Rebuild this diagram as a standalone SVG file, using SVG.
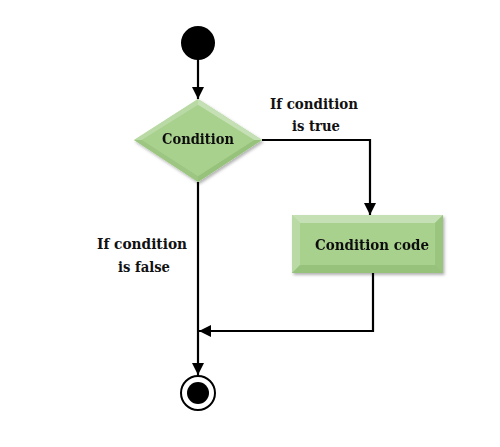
<svg xmlns="http://www.w3.org/2000/svg" width="500" height="447" viewBox="0 0 500 447">
<defs>
<style>
.lbl{font-family:"DejaVu Serif","Liberation Serif",serif;font-weight:bold;font-size:14px;fill:#111;text-anchor:middle}
.ln{stroke:#000;stroke-width:2.2;fill:none}
.shape{fill:#a9d18e}
.bevel-l{fill:#c5e0b4}
.bevel-d{fill:#8fbc73}
</style>
<marker id="arr" viewBox="0 0 10 10" refX="10" refY="5" markerWidth="12" markerHeight="12" orient="auto" markerUnits="userSpaceOnUse">
<path d="M0,0 L10,5 L0,10 z" fill="#000"/>
</marker>
<filter id="sh" x="-10%" y="-10%" width="130%" height="130%">
<feDropShadow dx="1.5" dy="2" stdDeviation="1.5" flood-color="#000" flood-opacity="0.3"/>
</filter>
</defs>
<rect width="500" height="447" fill="#fff"/>
<g id="connectors">
<line class="ln" x1="198" y1="58" x2="198" y2="99" marker-end="url(#arr)"/>
<polyline class="ln" points="262,140 370,140 370,215" marker-end="url(#arr)"/>
<polyline class="ln" points="373,273 373,331 199,331" marker-end="url(#arr)"/>
<line class="ln" x1="198" y1="182" x2="198" y2="375" marker-end="url(#arr)"/>
</g>
<g id="start">
<circle cx="198" cy="43" r="17" fill="#000"/>
</g>
<g id="condition" filter="url(#sh)">
<polygon class="shape" points="198,99 262,140 198,182 134,140"/>
<polygon class="bevel-l" points="198,99 262,140 254,140 198,105"/>
<polygon class="bevel-l" points="198,99 134,140 142,140 198,105" opacity="0.6"/>
<polygon class="bevel-d" points="198,182 262,140 254,140 198,176" opacity="0.7"/>
<polygon class="bevel-d" points="198,182 134,140 142,140 198,176" opacity="0.5"/>
<polygon class="shape" points="198,105 254,140 198,176 142,140"/>
<text class="lbl" x="198" y="144" textLength="72" lengthAdjust="spacingAndGlyphs">Condition</text>
</g>
<g id="code" filter="url(#sh)">
<rect class="shape" x="292" y="215" width="151" height="58"/>
<polygon class="bevel-l" points="292,215 443,215 435,223 300,223"/>
<polygon class="bevel-l" points="292,215 300,223 300,265 292,273" opacity="0.6"/>
<polygon class="bevel-d" points="443,215 443,273 435,265 435,223" opacity="0.6"/>
<polygon class="bevel-d" points="292,273 443,273 435,265 300,265" opacity="0.7"/>
<text class="lbl" x="372" y="250" textLength="114" lengthAdjust="spacingAndGlyphs">Condition  code</text>
</g>
<g id="end">
<circle cx="198" cy="393" r="17" fill="#fff" stroke="#000" stroke-width="2"/>
<circle cx="198" cy="393" r="11" fill="#000"/>
</g>
<g id="labels">
<text class="lbl" x="314" y="109" textLength="88" lengthAdjust="spacingAndGlyphs">If condition</text>
<text class="lbl" x="316" y="131" textLength="48" lengthAdjust="spacingAndGlyphs">is true</text>
<text class="lbl" x="142" y="249" textLength="90" lengthAdjust="spacingAndGlyphs">If condition</text>
<text class="lbl" x="144" y="272" textLength="52" lengthAdjust="spacingAndGlyphs">is false</text>
</g>
</svg>
